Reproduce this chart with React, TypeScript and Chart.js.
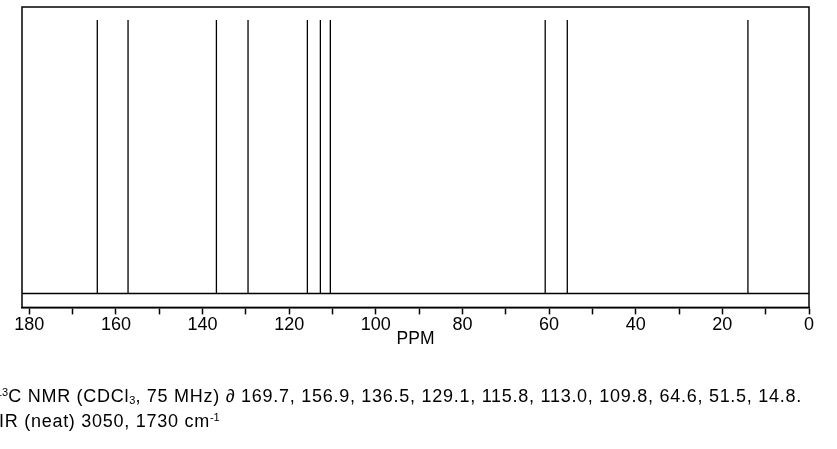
import React, { useEffect, useRef } from "react";
import { Chart, registerables } from "chart.js";

Chart.register(...registerables);

const peakPositions: number[] = [164.3, 157.2, 136.8, 129.5, 115.8, 112.8, 110.5, 60.9, 55.8, 14.1];
const peakHeights: number[] = [1, 1, 1, 1, 1, 1, 1, 1, 1, 1];
// Axis ticks (ppm)
const tickValues: number[] = [0, 10, 20, 30, 40, 50, 60, 70, 80, 90, 100, 110, 120, 130, 140, 150, 160, 170, 180];
const labelledTicks: number[] = [0, 20, 40, 60, 80, 100, 120, 140, 160, 180];
const axisTitle = "PPM";
const FONT = "'Liberation Sans', Arial, Helvetica, sans-serif";

const framePlugin = {
  id: "nmrFrame",
  afterDatasetsDraw(chart: any) {
    const { ctx, chartArea, scales } = chart;
    const y0 = scales.y.getPixelForValue(0);
    ctx.save();
    ctx.strokeStyle = "#000";
    ctx.lineWidth = 1.5;
    ctx.strokeRect(chartArea.left, chartArea.top, chartArea.right - chartArea.left, chartArea.bottom - chartArea.top);
    ctx.beginPath();
    ctx.moveTo(chartArea.left, y0);
    ctx.lineTo(chartArea.right, y0);
    ctx.stroke();
    ctx.restore();
  },
};

export default function App() {
  const ref = useRef<HTMLCanvasElement>(null);
  useEffect(() => {
    if (!ref.current) return;
    const data: any[] = [];
    peakPositions.forEach((p, i) => {
      data.push({ x: p, y: 0 });
      data.push({ x: p, y: peakHeights[i] });
      data.push({ x: p, y: null });
    });
    const chart = new Chart(ref.current, {
      type: "line",
      data: {
        datasets: [
          {
            data,
            borderColor: "#000",
            borderWidth: 1.3,
            pointRadius: 0,
            spanGaps: false,
            tension: 0,
          },
        ],
      },
      options: {
        animation: false,
        responsive: false,
        maintainAspectRatio: false,
        parsing: false,
        layout: { padding: { left: 22, right: 28, top: 7, bottom: 8 } },
        plugins: { legend: { display: false }, tooltip: { enabled: false } },
        scales: {
          x: {
            type: "linear",
            reverse: true,
            min: 0,
            max: 181.68,
            afterBuildTicks: (scale: any) => {
              scale.ticks = tickValues.map((v) => ({ value: v }));
            },
            grid: {
              drawOnChartArea: false,
              drawTicks: true,
              tickLength: 7,
              tickWidth: 1.5,
              tickColor: "#000",
            },
            border: { display: true, color: "#000", width: 1.5 },
            ticks: {
              autoSkip: false,
              maxRotation: 0,
              padding: 0,
              color: "#000",
              font: { family: FONT, size: 18 },
              callback: (v: any) => (labelledTicks.includes(Number(v)) ? String(v) : ""),
            },
            title: {
              display: true,
              text: axisTitle,
              color: "#000",
              font: { family: FONT, size: 17.5 },
              padding: { top: -7, bottom: 0 },
            },
          },
          y: {
            type: "linear",
            display: false,
            min: -0.0513,
            max: 1.0476,
          },
        },
      },
      plugins: [framePlugin],
    });
    return () => chart.destroy();
  }, []);

  const textStyle: React.CSSProperties = {
    position: "absolute",
    whiteSpace: "nowrap",
    fontFamily: FONT,
    fontSize: 18,
    letterSpacing: "0.73px",
    lineHeight: 1,
    color: "#000",
  };
  const sup: React.CSSProperties = { fontSize: 11, verticalAlign: "6px", letterSpacing: 0 };
  const sub: React.CSSProperties = { fontSize: 11, verticalAlign: "-2px", letterSpacing: 0 };

  return (
    <div style={{ position: "fixed", left: 0, top: 0, width: 837, height: 449, background: "#fff" }}>
      <canvas ref={ref} width={837} height={358} style={{ position: "absolute", left: 0, top: 0 }} />
      <div style={{ ...textStyle, left: -4, top: 387 }}>
        <span style={sup}>13</span>C NMR (CDCl<span style={sub}>3</span>, 75 MHz) ∂ 169.7, 156.9, 136.5, 129.1, 115.8, 113.0, 109.8, 64.6, 51.5, 14.8.
      </div>
      <div style={{ ...textStyle, left: -1, top: 412 }}>
        IR (neat) 3050, 1730 cm<span style={sup}>-1</span>
      </div>
    </div>
  );
}
